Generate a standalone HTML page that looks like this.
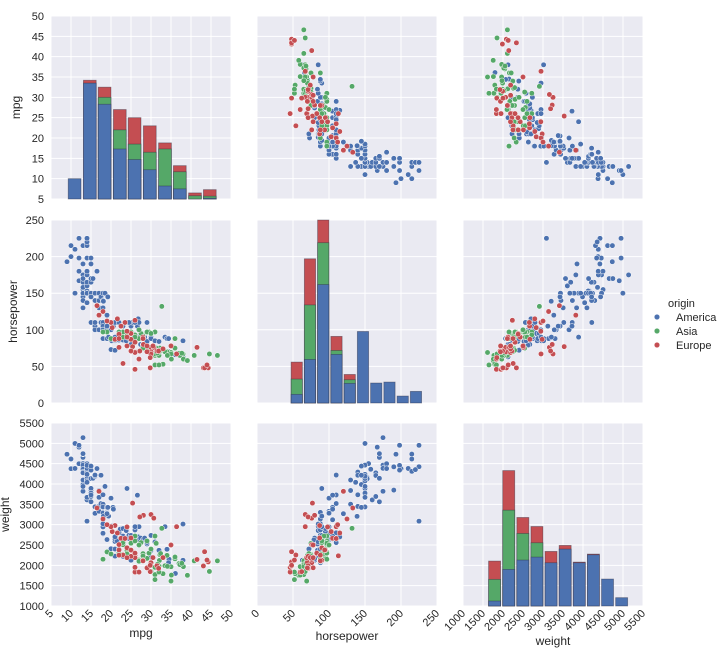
<!DOCTYPE html>
<html><head><meta charset="utf-8"><style>
html,body{margin:0;padding:0;background:#fff;}
svg{display:block;font-family:"Liberation Sans",Arial,sans-serif;}
</style></head><body>
<svg id="chart" width="720" height="648" viewBox="0 0 720 648" xmlns="http://www.w3.org/2000/svg"></svg>
<script>
// ---- data ----
const varNames = ["mpg", "horsepower", "weight"];
const varDomains = [[5, 50], [0, 250], [1000, 5500]];
const tickMpg = [5, 10, 15, 20, 25, 30, 35, 40, 45, 50];
const tickHp = [0, 50, 100, 150, 200, 250];
const tickWeight = [1000, 1500, 2000, 2500, 3000, 3500, 4000, 4500, 5000, 5500];
const originNames = ["America", "Asia", "Europe"];
const originColors = ["#4C72B0", "#55A868", "#C44E52"];

// records: [mpg, horsepower, weight]
const americaCars = [[9,193,4732],[10,215,4615],[10,200,4376],[11,210,4382],[11,150,4997],[12,167,4906],[12,180,4499],[12,198,4952],[12,225,4951],[13,170,4654],[13,175,5140],[13,190,4422],[13,155,4502],[13,150,4464],[13,158,4363],[13,215,4735],[13,175,3821],[13,145,3988],[13,130,4098],[13,140,4294],[13,165,4274],[13,170,4746],[13,150,3940],[14,225,4425],[14,215,4312],[14,220,4354],[14,160,3609],[14,225,3086],[14,165,4209],[14,175,4464],[14,153,4154],[14,150,4096],[14,175,4385],[14,153,4129],[14,150,4077],[14,150,3672],[14,137,4042],[14,150,4237],[14,180,4499],[14,198,4457],[15,165,3693],[15,198,4341],[15,190,3850],[15,170,3563],[15,150,3761],[15,150,4135],[15,150,3892],[15,150,3777],[15,145,4440],[15,110,3730],[15.5,170,4140],[16,150,3433],[16,105,3439],[16,100,3278],[16,150,4190],[16,140,4215],[16,110,4220],[16.5,180,4380],[17,140,3449],[17,150,3672],[17,100,3329],[17,130,3840],[17.5,145,4215],[17.5,110,3520],[18,130,3504],[18,150,3436],[18,97,2774],[18,100,3288],[18,88,3139],[18,110,2962],[18,105,3121],[18,100,2945],[18,88,3021],[18,100,2789],[18,140,3735],[18.1,139,3205],[18.5,150,3940],[19,100,2634],[19,88,3302],[19,100,3282],[19,105,3425],[19.2,145,3425],[19.4,90,3210],[19,120,3270],[20,73,2408],[20,100,3651],[20.2,85,2965],[20.5,105,3425],[20.6,105,3380],[21,85,2587],[21,90,2648],[21,86,2226],[21,72,2401],[21.5,110,2600],[21,110,2700],[22,95,2833],[22,86,2395],[22,110,2800],[22.3,88,2890],[23,86,2220],[23,95,2904],[23,105,2720],[23.8,85,2855],[24,90,3890],[24.5,88,2740],[25,80,2126],[25,90,2735],[25,105,2650],[25.4,110,2620],[26,88,2870],[26.6,105,3725],[26.8,115,2700],[27,90,2950],[27,110,2620],[27.4,80,2670],[28,90,2264],[28,80,2164],[28,79,2625],[28.4,90,2670],[29,84,2525],[29,110,2560],[30,90,2735],[30,88,2365],[30,72,2200],[31,85,2575],[32,84,2370],[33.5,90,2950],[34,88,2395],[34.5,70,2150],[36.1,66,1800],[38,63,2125],[38,85,3015],[26,110,2950],[24.5,110,2660],[34.4,88,2065]];
const asiaCars = [[24,95,2372],[27,88,2130],[25,95,2228],[24,95,2278],[31,65,1773],[35,69,1613],[19,97,2330],[28,92,2288],[23,97,2506],[27,88,2100],[20,88,2279],[32,65,1985],[31,67,1950],[38,67,1965],[37,68,2045],[44.6,67,1850],[46.6,65,2110],[40.8,65,2110],[32.7,132,2910],[38.1,60,1968],[32.1,70,2120],[37.2,65,2019],[36,88,2160],[36,75,2205],[34,70,2245],[18,97,2150],[29.5,97,2300],[31,97,2720],[32.2,75,2265],[29,97,2600],[27.5,95,2560],[35,67,1965],[33.5,70,1990],[31.6,68,2025],[39.1,58,1755],[35.1,60,1760],[32.4,72,2290],[34.1,65,1975],[37.7,68,2050],[29,75,2171],[31.3,75,2542],[26,93,2720],[25,97,2545],[22,97,2300],[23,90,2560],[28,75,2230],[26,90,2600],[30,67,1850],[33,53,1795],[31,52,1649],[32,52,1835],[27,100,2500],[30,95,2400]];
const europeCars = [[26,46,1835],[25,87,2672],[24,90,2430],[25,95,2375],[26,113,2234],[28,90,2123],[30,70,2074],[30,76,2065],[27,60,1834],[26,70,1955],[23,54,2254],[22,76,2511],[21,87,2979],[26,69,2189],[22,94,2379],[26,46,1950],[43.1,48,1985],[44.3,48,2085],[43.4,48,2335],[36.4,67,2950],[30,67,3250],[44,52,2130],[29.8,62,1845],[41.5,76,2144],[16.5,133,3410],[17,120,3820],[20.3,103,2830],[18,125,3140],[30.7,76,3160],[25.4,77,3530],[28.1,80,3230],[27.2,71,3190],[21.6,115,2795],[22.5,105,2665],[20,110,2950],[23.5,110,2660],[24,98,2945],[25,71,2223],[31.5,71,1990],[29,78,1940],[31.9,71,1925],[29,70,1937],[30.5,78,2190],[33,74,2190],[28,88,2110],[29.8,48,2000],[35,78,2500],[19,112,3000],[24,78,2188],[26,83,2300],[22,88,2250]];

// stacked histogram cumulative tops (axis units), America / +Asia / +Europe
const mpgBinCenters = [10.9, 14.7, 18.4, 22.2, 25.9, 29.7, 33.5, 37.2, 41.0, 44.7];
const mpgHistAmerica = [10, 33.5, 28.3, 17.3, 14.7, 12.2, 8.2, 7.5, 5.0, 5.2];
const mpgHistAsia = [10, 33.5, 30, 22, 18.5, 16.5, 17.3, 11.7, 5.8, 5.7];
const mpgHistEurope = [10, 34.2, 32.5, 27, 25, 23, 18.8, 13.2, 6.5, 7.3];
const hpBinCenters = [55.2, 73.6, 92, 110.4, 128.8, 147.2, 165.6, 184, 202.4, 220.8];
const hpHistAmerica = [11.8, 59.5, 161.8, 66.4, 26.8, 97.7, 27.3, 28.6, 9.5, 15.9];
const hpHistAsia = [32.7, 134, 219, 71.8, 31.8, 97.7, 27.3, 28.6, 9.5, 15.9];
const hpHistEurope = [55.9, 197, 250, 91, 39, 97.7, 27.3, 28.6, 9.5, 15.9];
const wtBinCenters = [1790, 2143, 2496, 2848, 3201, 3554, 3907, 4260, 4613, 4966];
const wtHistAmerica = [1123, 1900, 2130, 2203, 2064, 2400, 2064, 2260, 1663, 1205];
const wtHistAsia = [1655, 3357, 2784, 2555, 2064, 2400, 2064, 2260, 1663, 1205];
const wtHistEurope = [2105, 4330, 3177, 2955, 2342, 2490, 2080, 2277, 1663, 1205];

// ---- layout ----
const NS = "http://www.w3.org/2000/svg";
const svg = document.getElementById("chart");
const colX = [51, 257, 463], rowY = [16, 220, 423], PW = 180, PH = 183;
const ticksFor = [tickMpg, tickHp, tickWeight];
const binWidths = [3.76, 18.4, 353];
const yTitleX = [20, 17, 9];
function xScale(c, v) { const d = varDomains[c]; return colX[c] + (v - d[0]) / (d[1] - d[0]) * PW; }
function yScale(r, v) { const d = varDomains[r]; return rowY[r] + PH - (v - d[0]) / (d[1] - d[0]) * PH; }
function mk(tag, attrs, parent) {
  const e = document.createElementNS(NS, tag);
  for (const k in attrs) e.setAttribute(k, attrs[k]);
  (parent || svg).appendChild(e);
  return e;
}
const cars = [americaCars, asiaCars, europeCars];
const histData = [[mpgHistAmerica, mpgHistAsia, mpgHistEurope], [hpHistAmerica, hpHistAsia, hpHistEurope], [wtHistAmerica, wtHistAsia, wtHistEurope]];
const binCenters = [mpgBinCenters, hpBinCenters, wtBinCenters];

for (let r = 0; r < 3; r++) {
  for (let c = 0; c < 3; c++) {
    const g = mk("g", {});
    
    
    const bg = mk("rect", { x: colX[c], y: rowY[r], width: PW, height: PH, fill: "#EAEAF2" }, g);
    
    
    ticksFor[c].forEach(t => { const x = xScale(c, t); mk("line", { x1: x, x2: x, y1: rowY[r], y2: rowY[r] + PH, stroke: "#fff", "stroke-width": 1 }, g); });
    ticksFor[r].forEach(t => { const y = yScale(r, t); mk("line", { x1: colX[c], x2: colX[c] + PW, y1: y, y2: y, stroke: "#fff", "stroke-width": 1 }, g); });
    if (r === c) {
      const base = varDomains[r][0];
      const centers = binCenters[c];
      for (let o = 2; o >= 0; o--) {
        const vals = histData[c][o];
        centers.forEach((ctr, i) => {
          const lo = o === 0 ? base : histData[c][o - 1][i];
          const hi = vals[i];
          if (hi - lo <= 0) return;
          const x0 = xScale(c, ctr - binWidths[c] * 0.425), x1 = xScale(c, ctr + binWidths[c] * 0.425);
          const y0 = yScale(r, hi), y1 = yScale(r, base);
          const b = mk("rect", { x: x0, y: Math.max(y0, rowY[r]), width: x1 - x0, height: y1 - Math.max(y0, rowY[r]), fill: originColors[o], stroke: "rgba(40,40,60,0.45)", "stroke-width": 0.8 }, g);
          
          
        });
      }
    } else {
      for (let o = 0; o < 3; o++) {
        cars[o].forEach(rec => {
          const p = mk("circle", { cx: xScale(c, rec[c]), cy: yScale(r, rec[r]), r: 2.7, fill: originColors[o], stroke: "#fff", "stroke-width": 0.5 }, g);
          
          
        });
      }
    }
  }
  // y tick labels
  ticksFor[r].forEach(t => {
    const tx = mk("text", { x: 44, y: yScale(r, t) + 4, "text-anchor": "end", "font-size": 11, fill: "#262626" });
    tx.textContent = t;
    
    
  });
  const yl = mk("text", { transform: "translate(" + yTitleX[r] + "," + (rowY[r] + PH / 2) + ") rotate(-90)", "text-anchor": "middle", "font-size": 12, fill: "#262626" });
  yl.textContent = varNames[r];
  
  
}
const xTitleY = [637, 640, 645];
for (let c = 0; c < 3; c++) {
  ticksFor[c].forEach(t => {
    const x = xScale(c, t) + 3, y = 614;
    const tx = mk("text", { transform: "translate(" + x + "," + y + ") rotate(-45)", "text-anchor": "end", "font-size": 11, fill: "#262626" });
    tx.textContent = t;
    
    
  });
  const xl = mk("text", { x: colX[c] + PW / 2, y: xTitleY[c], "text-anchor": "middle", "font-size": 12, fill: "#262626" });
  xl.textContent = varNames[c];
  
  
}
// legend
const lg = mk("g", {});


const lt = mk("text", { x: 668, y: 307, "font-size": 11, fill: "#262626" }, lg);
lt.textContent = "origin";


originNames.forEach((n, i) => {
  const cy = 317 + i * 14;
  const d = mk("circle", { cx: 657, cy: cy, r: 2.8, fill: originColors[i], stroke: "#fff", "stroke-width": 0.5 }, lg);
  
  
  const t = mk("text", { x: 676, y: cy + 4, "font-size": 11, fill: "#262626" }, lg);
  t.textContent = n;
  
  
});
</script>
</body></html>
